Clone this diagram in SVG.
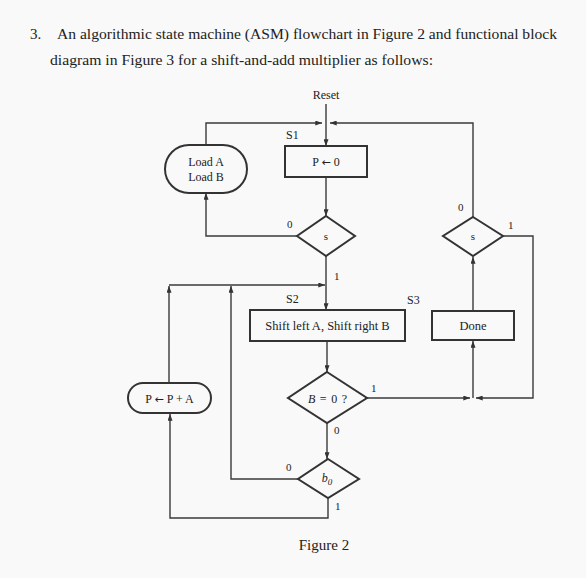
<svg xmlns="http://www.w3.org/2000/svg" width="586" height="578" viewBox="0 0 586 578">
<defs>
<style>
.t{font-family:"Liberation Serif","Times New Roman",serif;fill:#222}
.hd{font-size:15px}
.lb{font-size:12px}
.sm{font-size:11px}
.ar{font-family:"DejaVu Sans",sans-serif;font-size:11px}
.box{fill:none;stroke:#333;stroke-width:2}
.ln{fill:none;stroke:#3a3a3a;stroke-width:1.4}
</style>
<marker id="ah" viewBox="0 0 8 6" refX="8" refY="3" markerWidth="7" markerHeight="5" orient="auto" markerUnits="userSpaceOnUse">
<path d="M0,0 L8,3 L0,6 z" fill="#333"/>
</marker>
</defs>
<rect width="586" height="578" fill="#f9f9f9"/>

<g id="header">
<text class="t hd" x="30" y="38.5">3.</text>
<text class="t hd" x="57" y="38.5" textLength="500" lengthAdjust="spacingAndGlyphs">An algorithmic state machine (ASM) flowchart in Figure 2 and functional block</text>
<text class="t hd" x="50" y="65" textLength="383" lengthAdjust="spacingAndGlyphs">diagram in Figure 3 for a shift-and-add multiplier as follows:</text>
</g>

<g id="connectors">
<path class="ln" d="M326,104 V146" marker-end="url(#ah)"/>
<path class="ln" d="M206,145 V123 H322" marker-end="url(#ah)"/>
<path class="ln" d="M473,217 V123 H330" marker-end="url(#ah)"/>
<path class="ln" d="M326,177 V216" marker-end="url(#ah)"/>
<path class="ln" d="M297,236 H206 V193" marker-end="url(#ah)"/>
<path class="ln" d="M326,256 V310" marker-end="url(#ah)"/>
<path class="ln" d="M169,285 H325" marker-end="url(#ah)"/>
<path class="ln" d="M169,383 V286" marker-end="url(#ah)"/>
<path class="ln" d="M298,479 H231 V286" marker-end="url(#ah)"/>
<path class="ln" d="M327,341 V372" marker-end="url(#ah)"/>
<path class="ln" d="M327,423 V459" marker-end="url(#ah)"/>
<path class="ln" d="M367,398 H470" marker-end="url(#ah)"/>
<path class="ln" d="M503,236 H533 V398 H476" marker-end="url(#ah)"/>
<path class="ln" d="M473,398 V341" marker-end="url(#ah)"/>
<path class="ln" d="M473,311 V257" marker-end="url(#ah)"/>
<path class="ln" d="M328,498 V518 H170 V414" marker-end="url(#ah)"/>
</g>

<g id="reset">
<text class="t lb" x="326" y="99" text-anchor="middle">Reset</text>
</g>

<g id="s1-label"><text class="t lb" x="286" y="139">S1</text></g>

<g id="p0">
<rect class="box" x="285" y="146" width="82" height="31"/>
<text class="t lb" x="326" y="165.5" text-anchor="middle">P <tspan class="ar">←</tspan> 0</text>
</g>

<g id="loadAB">
<rect class="box" x="165" y="145" width="82" height="48" rx="24" ry="24"/>
<text class="t lb" x="206" y="166" text-anchor="middle">Load A</text>
<text class="t lb" x="206" y="181" text-anchor="middle">Load B</text>
</g>

<g id="s-diamond-1">
<path class="box" d="M326,216 L355,236 L326,256 L297,236 Z"/>
<text class="t sm" x="326" y="240" text-anchor="middle">s</text>
<text class="t sm" x="287" y="228">0</text>
<text class="t sm" x="334" y="280">1</text>
</g>

<g id="s2-label"><text class="t lb" x="286" y="303">S2</text></g>
<g id="s3-label"><text class="t lb" x="407" y="304">S3</text></g>

<g id="shift">
<rect class="box" x="250" y="310" width="155" height="31" stroke-width="2.2"/>
<text class="t" x="327.5" y="330" text-anchor="middle" font-size="12.5">Shift left A, Shift right B</text>
</g>

<g id="ppa">
<rect class="box" x="128" y="383" width="83" height="30" rx="15" ry="15"/>
<text class="t lb" x="169.5" y="402.5" text-anchor="middle">P <tspan class="ar">←</tspan> P + A</text>
</g>

<g id="b-zero">
<path class="box" d="M327,372 L367,398 L327,423 L288,398 Z"/>
<text class="t lb" x="308" y="403" textLength="39" lengthAdjust="spacing"><tspan font-style="italic">B</tspan> = 0 ?</text>
<text class="t sm" x="371" y="392">1</text>
<text class="t sm" x="334" y="434">0</text>
</g>

<g id="b0">
<path class="box" d="M328,459 L359,479 L328,498 L298,479 Z"/>
<text class="t lb" x="327" y="482" text-anchor="middle"><tspan font-style="italic">b</tspan><tspan font-size="9" dy="3" font-style="italic">0</tspan></text>
<text class="t sm" x="286" y="471">0</text>
<text class="t sm" x="335" y="510">1</text>
</g>

<g id="s-diamond-2">
<path class="box" d="M473,217 L503,236 L473,256 L443,236 Z"/>
<text class="t sm" x="473" y="240" text-anchor="middle">s</text>
<text class="t sm" x="458" y="211">0</text>
<text class="t sm" x="508" y="229">1</text>
</g>

<g id="done">
<rect class="box" x="432" y="311" width="82" height="29"/>
<text class="t" x="473" y="329.5" text-anchor="middle" font-size="12.5">Done</text>
</g>

<g id="caption">
<text class="t" x="324" y="550" text-anchor="middle" font-size="15">Figure 2</text>
</g>
</svg>
